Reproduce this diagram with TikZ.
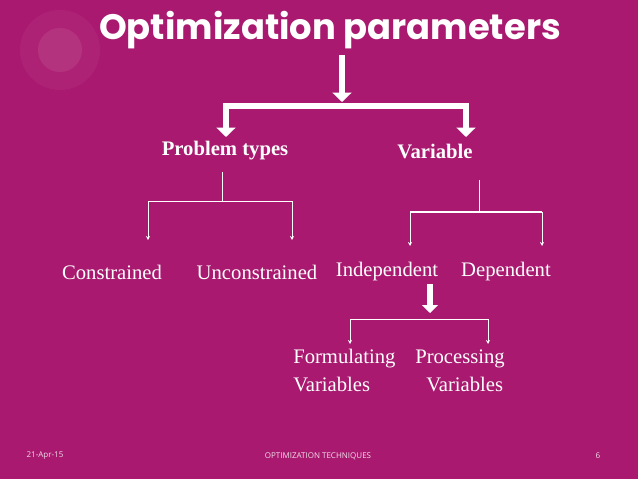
\documentclass[tikz,border=0pt]{standalone}
\usepackage{fontspec}
\setmainfont{Liberation Serif}
\newfontfamily\titlefont{Poppins}
\newfontfamily\footfont{Open Sans}
\usetikzlibrary{arrows.meta}
\definecolor{bg}{HTML}{A8196F}
\definecolor{bgl}{HTML}{B8307F}
\tikzset{
 lbl/.style={text=white,font=\fontsize{15.5}{18}\selectfont,inner sep=0pt},
 blbl/.style={lbl,font=\fontsize{15.5}{18}\selectfont\bfseries},
 thin/.style={draw=white,line width=0.6pt,-{Stealth[length=3pt,width=3pt]}},
 thinl/.style={draw=white,line width=0.6pt},
 fat/.style={draw=white,line width=4.5pt,-{Triangle[length=7pt,width=14pt]}},
 fatl/.style={draw=white,line width=4.5pt},
 foot/.style={text=white!85!bg,font=\footfont\fontsize{6}{7}\selectfont,inner sep=0pt}
}
\begin{document}
\begin{tikzpicture}[x=0.75pt,y=-0.75pt]
\fill[bg] (0,0) rectangle (638,479);
\fill[bgl,opacity=0.4] (60,50) circle (40);
\fill[white,opacity=0.08] (60,50) circle (22);
\node[text=white,font=\titlefont\bfseries\fontsize{26.5}{30}\selectfont,inner sep=0pt] (title) at (330,30) {Optimization parameters};
\coordinate (t0) at (342,55);
\coordinate (t1) at (342,102);
\draw[fat] (t0) -- (t1);
\coordinate (hl) at (226,106); \coordinate (hr) at (466,106);
\draw[fatl] ([xshift=-2.5]hl) -- ([xshift=2.5]hr);
\node[blbl] (pt) at (225,151) {Problem types};
\node[blbl] (var) at (435,151) {Variable};
\draw[fat] (hl) -- (226,137);
\draw[fat] (hr) -- (466,137);
\node[lbl] (con) at (112,272) {Constrained};
\node[lbl] (unc) at (257,272) {Unconstrained};
\node[lbl] (ind) at (387,272) {Independent};
\node[lbl] (dep) at (506,272) {Dependent};
\coordinate (p0) at (222,172); \coordinate (p1) at (222,201);
\draw[thinl] (p0) -- (p1);
\draw[thinl] (148,201) -- (292,201);
\draw[thin] (148,201) -- (148,240);
\draw[thin] (292,201) -- (292,240);
\coordinate (v0) at (479,180); \coordinate (v1) at (479,212);
\draw[thinl] (v0) -- (v1);
\draw[draw=white,line width=1.5pt] (410,212) -- (542,212);
\draw[thin] (410,212) -- (410,246);
\draw[thin] (542,212) -- (542,246);
\draw[draw=white,line width=4pt,-{Triangle[length=6pt,width=12pt]}] (430,284) -- (430,313);
\draw[thinl] (350,319) -- (488,319);
\draw[thin] (350,319) -- (350,344);
\draw[thin] (488,319) -- (488,344);
\node[lbl,anchor=west] (f1) at (293,359) {Formulating};
\node[lbl,anchor=west] (f2) at (293,384) {Variables};
\node[lbl,anchor=west] (g1) at (415,359) {Processing};
\node[lbl,anchor=west] (g2) at (426,384) {Variables};
\node[foot] (d) at (45,456) {21-Apr-15};
\node[foot] (ot) at (318,456) {OPTIMIZATION TECHNIQUES};
\node[foot] (n) at (598,456) {6};
\end{tikzpicture}
\end{document}
